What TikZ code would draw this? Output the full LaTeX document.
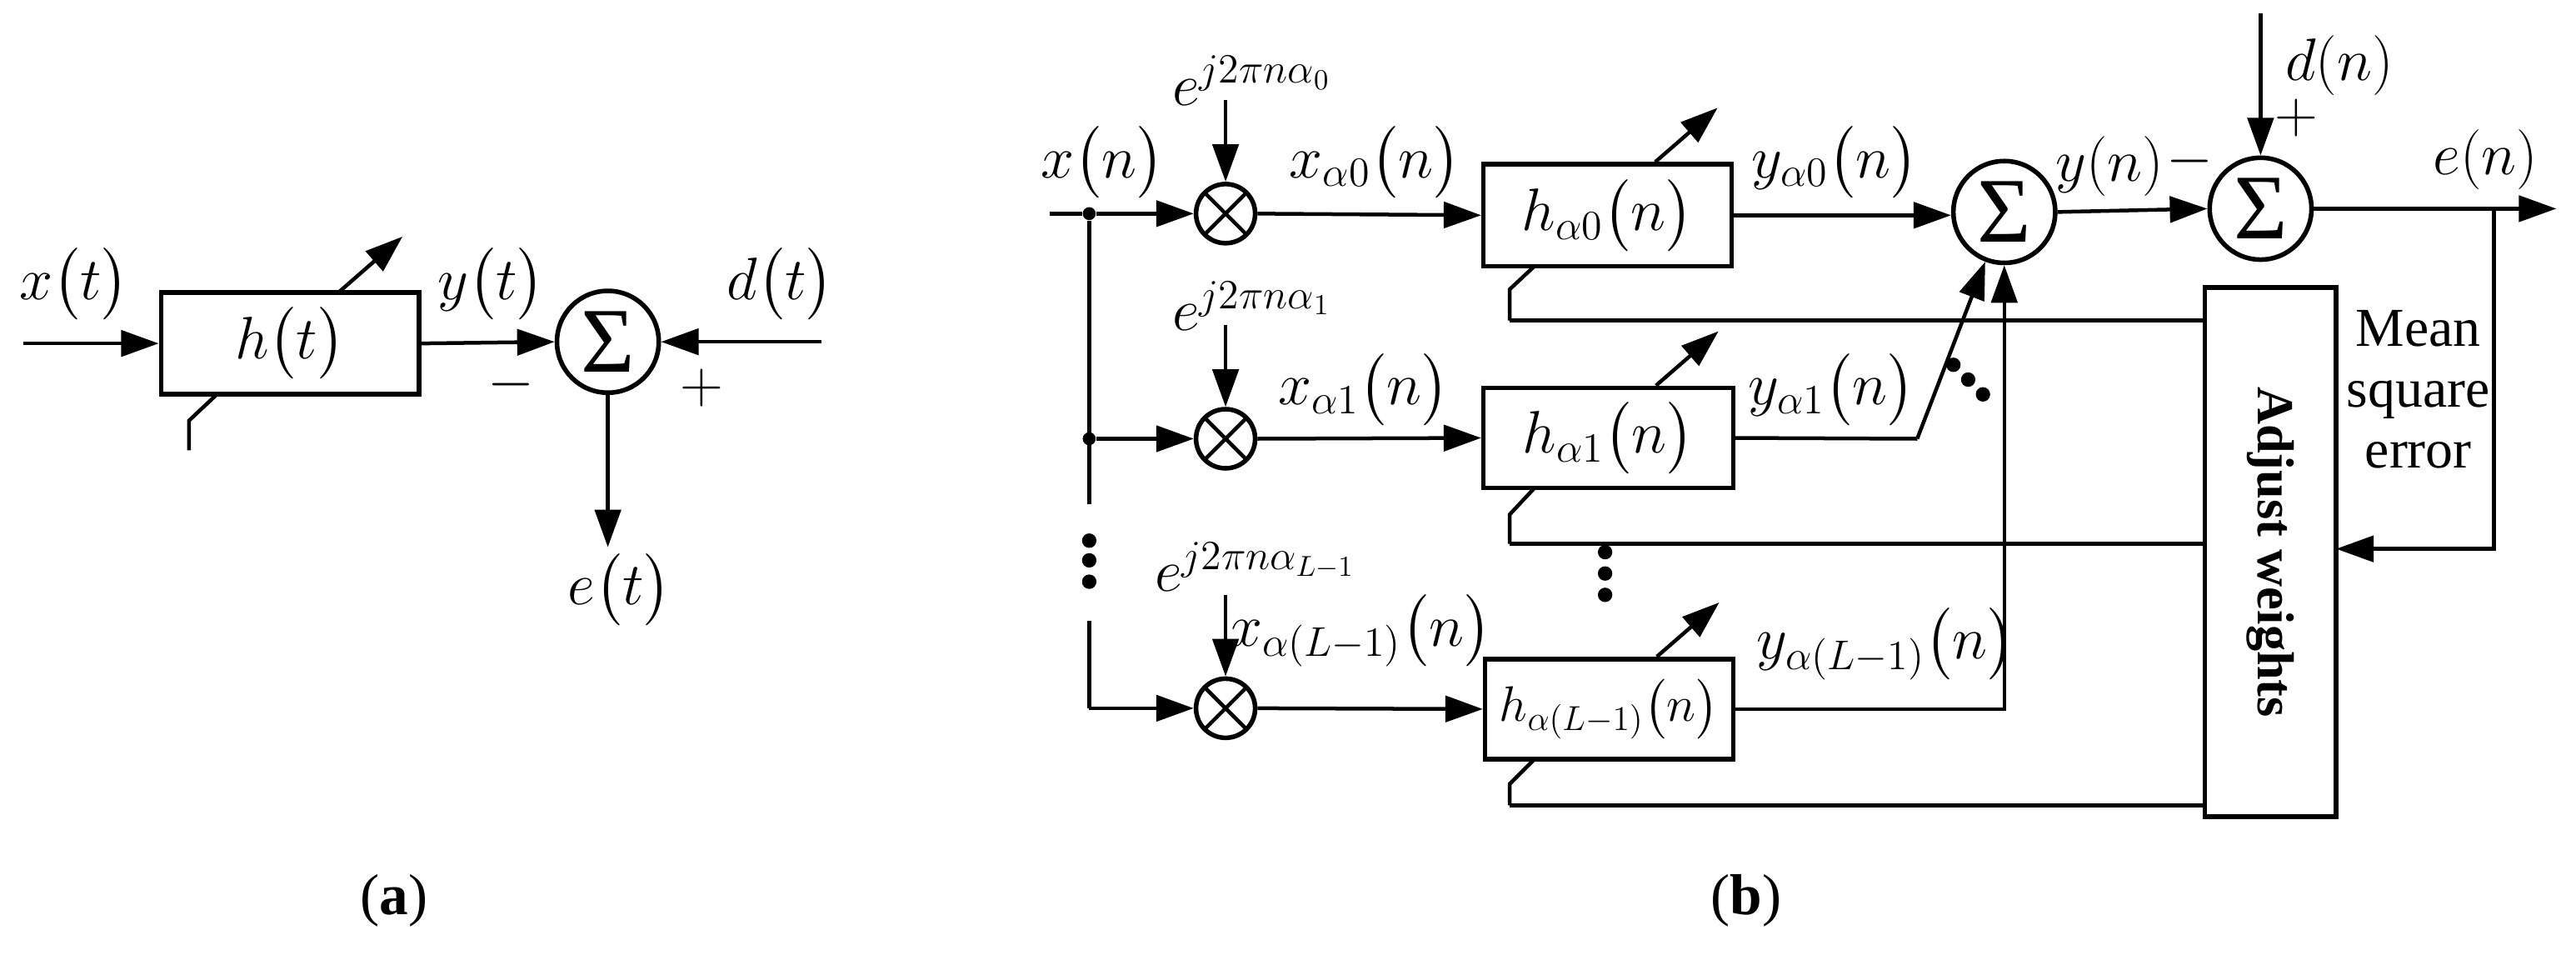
\documentclass[tikz,border=0pt]{standalone}
\usepackage{amsmath}
\usepackage{exscale}
\usepackage{fontspec}
\setmainfont{Liberation Serif}
\usetikzlibrary{arrows.meta,calc}
\begin{document}
\begin{tikzpicture}[x=0.02cm,y=-0.02cm,
  ln/.style={line width=1.3pt},
  arr/.style={ln,-{Triangle[length=13pt,width=9pt]}},
  blk/.style={draw,line width=1.6pt,rectangle,inner sep=0pt},
  mul/.style={draw,line width=1.6pt,circle,minimum size=0.72cm,inner sep=0pt,
     path picture={\draw[line width=1.3pt] (path picture bounding box.north west)--(path picture bounding box.south east) (path picture bounding box.north east)--(path picture bounding box.south west);}},
  sm/.style={draw,line width=1.6pt,circle,minimum size=1.24cm,inner sep=0pt,font=\fontsize{32}{32}\selectfont},
  lb/.style={font=\fontsize{20}{22}\selectfont,inner sep=0pt},
  dot/.style={circle,fill,inner sep=0pt,minimum size=4.5pt}]
\useasboundingbox (0,0) rectangle (1568,587);
% ---------- (a)
\node[blk,minimum width=3.14cm,minimum height=1.24cm] (ha) at (176.5,209) {};
\node[lb] at (ha) {$h\bigl(t\bigr)$};
\coordinate (xa) at (14,209);
\draw[arr] (xa) -- (ha.west);
\node[sm] (sa) at (370,208) {Σ};
\draw[arr] (ha.east) -- (sa.west);
\coordinate (da) at (500,208);
\draw[arr] (da) -- (sa.east);
\coordinate (ea) at (370,333);
\draw[arr] (sa.south) -- (ea);
\coordinate (aa1) at (206,178); \coordinate (aa2) at (245,144);
\draw[arr] (aa1) -- (aa2);
\coordinate (ta1) at (132,240); \coordinate (ta2) at (115,256); \coordinate (ta3) at (115,274);
\draw[ln] (ta1) -- (ta2) -- (ta3);
\node[lb] (lxa) at (45,173) {$x\bigl(t\bigr)$};
\node[lb] (lya) at (299,173) {$y\bigl(t\bigr)$};
\node[lb] (lda) at (475,173) {$d\bigl(t\bigr)$};
\node[lb] (lea) at (377,359) {$e\bigl(t\bigr)$};
\node[lb] (ma) at (311,234) {$-$};
\node[lb] (pa) at (427,236) {$+$};
\node[lb] (capa) at (240,548) {(\textbf{a})};
% ---------- (b)
\coordinate (xin) at (639,130);
\node[dot] (j0) at (663,130) {};
\node[dot] (j1) at (663,267) {};
\coordinate (jg1) at (663,307);
\coordinate (jg2) at (663,378);
\coordinate (j2) at (663,431);
\foreach \y in {329,341,354}{\fill (663,\y) circle (2.5pt);}
\foreach \y in {336,349,362}{\fill (977,\y) circle (2.5pt);}
\fill (1189,222) circle (2.5pt); \fill (1198,231) circle (2.5pt); \fill (1207,240) circle (2.5pt);
\node[mul] (m0) at (746,130) {};
\node[mul] (m1) at (746,267) {};
\node[mul] (m2) at (746,431) {};
\node[blk,minimum width=3.02cm,minimum height=1.24cm] (b0) at (978.5,131) {};
\node[blk,minimum width=3.04cm,minimum height=1.22cm] (b1) at (979,266.5) {};
\node[blk,minimum width=3.02cm,minimum height=1.22cm] (b2) at (979.5,431.5) {};
\node[lb] at (b0) {$h_{\alpha0}\bigl(n\bigr)$};
\node[lb] at (b1) {$h_{\alpha1}\bigl(n\bigr)$};
\node[lb,font=\fontsize{18}{20}\selectfont] at (b2) {$h_{\alpha(L-1)}\bigl(n\bigr)$};
\draw[ln] (xin) -- (j0);
\draw[arr] (j0) -- (m0.west);
\draw[arr] (j1) -- (m1.west);
\draw[ln] (j0) -- (jg1);
\draw[ln] (jg2) -- (j2);
\draw[arr] (j2) -- (m2.west);
\draw[arr] (m0.east) -- (b0.west);
\draw[arr] (m1.east) -- (b1.west);
\draw[arr] (m2.east) -- (b2.west);
% exponentials
\node[lb] (e0) at (762,49) {$e^{j2\pi n\alpha_0}$};
\node[lb] (e1) at (762,186) {$e^{j2\pi n\alpha_1}$};
\node[lb] (e2) at (764,345) {$e^{j2\pi n\alpha_{L-1}}$};
\coordinate (c0) at (746,61); \coordinate (c1) at (746,198); \coordinate (c2) at (746,362);
\draw[arr] (c0) -- (m0.north);
\draw[arr] (c1) -- (m1.north);
\draw[arr] (c2) -- (m2.north);
% adjust arrows and tails
\foreach \b/\yt/\yb/\yl in {b0/162/176/195, b1/297/313/331, b2/462/477/490}{
  \draw[arr] ($(\b.north)+(29,0)$) -- ++(38,-33);
  \draw[ln] (934,\yt) -- (919,\yb) -- (919,\yl);
}
% summations
\node[sm] (s1) at (1220,129) {Σ};
\node[sm] (s2) at (1376,127) {Σ};
\draw[arr] (b0.east) -- (b0.east -| s1.west);
\coordinate (k1) at (1167,267);
\draw[ln] (b1.east) -- (k1);
\draw[arr] (k1) -- (s1);
\draw[arr] (b2.east) -| (s1.south);
\draw[arr] (s1.east) -- (s2.west);
\coordinate (dn) at (1376,8);
\draw[arr] (dn) -- (s2.north);
\coordinate (eout) at (1556,127);
\draw[arr] (s2.east) -- (eout);
\coordinate (br) at (1518,127);
% adjust weights
\node[blk,minimum width=1.6cm,minimum height=6.44cm] (adj) at (1382,336) {};
\node[rotate=-90,font=\fontsize{18}{18}\selectfont\bfseries] at (adj) {Adjust weights};
\draw[arr] (br) |- (1422,334);
\draw[ln] (919,195) -- (adj.west |- 0,195);
\draw[ln] (919,331) -- (adj.west |- 0,331);
\draw[ln] (919,490) -- (adj.west |- 0,490);
% labels
\node[lb] at (671,99) {$x\bigl(n\bigr)$};
\node[lb] at (837,99) {$x_{\alpha0}\bigl(n\bigr)$};
\node[lb] at (830,237) {$x_{\alpha1}\bigl(n\bigr)$};
\node[lb] at (828,384) {$x_{\alpha(L-1)}\bigl(n\bigr)$};
\node[lb] at (1117,99) {$y_{\alpha0}\bigl(n\bigr)$};
\node[lb] at (1115,237) {$y_{\alpha1}\bigl(n\bigr)$};
\node[lb] at (1148,392) {$y_{\alpha(L-1)}\bigl(n\bigr)$};
\node[lb] at (1284,101) {$y(n)$};
\node[lb] at (1333,98) {$-$};
\node[lb] at (1424,40) {$d(n)$};
\node[lb] at (1398,72) {$+$};
\node[lb] at (1513,97) {$e(n)$};
\node[align=center,font=\fontsize{19}{21}\selectfont] at (1472,237) {Mean\\square\\error};
\node[lb] at (1063,548) {(\textbf{b})};
\end{tikzpicture}
\end{document}
